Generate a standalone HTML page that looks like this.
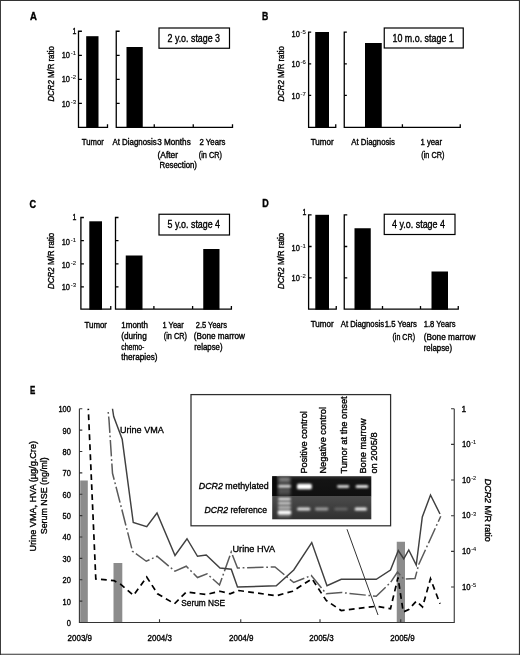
<!DOCTYPE html>
<html lang="en"><head><meta charset="utf-8"><title>Figure</title>
<style>html,body{margin:0;padding:0;background:#fff}svg{display:block}text{stroke:#000;stroke-width:.36px}</style></head>
<body>
<svg width="520" height="655" viewBox="0 0 520 655" font-family='"Liberation Sans", Arial, sans-serif' fill="#000">
<rect x="0" y="0" width="520" height="655" fill="#fff"/>
<text x="29.9" y="20.3" font-size="10.4" font-weight="bold" textLength="6.9" lengthAdjust="spacingAndGlyphs">A</text>
<text transform="translate(54.20,101.60) rotate(-90)" font-size="8.3" textLength="55.40" lengthAdjust="spacingAndGlyphs" ><tspan font-style="italic">DCR2</tspan> M/R ratio</text>
<path d="M81.90,31.25H78.50V127.40H107.50v-3.2M78.50,55.30h3.4M78.50,79.30h3.4M78.50,103.30h3.4M119.65,31.25H116.25V127.40H232.50v-3.2M116.25,55.30h3.4M116.25,79.30h3.4M116.25,103.30h3.4M154.25,127.40v-3.2M193.25,127.40v-3.2" fill="none" stroke="#000" stroke-width="1.3"/>
<rect x="86.20" y="36.20" width="12.30" height="91.70" fill="#000"/>
<rect x="126.50" y="47.00" width="16.25" height="80.90" fill="#000"/>
<text x="72.50" y="33.50" font-size="8.3" textLength="3.9" lengthAdjust="spacingAndGlyphs">1</text>
<text x="61.70" y="58.20" font-size="8.3" textLength="8.30" lengthAdjust="spacingAndGlyphs">10</text>
<text x="70.70" y="55.20" font-size="5.2" textLength="5.3" lengthAdjust="spacingAndGlyphs" style="stroke-width:.08px">-1</text>
<text x="61.70" y="82.30" font-size="8.3" textLength="8.30" lengthAdjust="spacingAndGlyphs">10</text>
<text x="70.70" y="79.30" font-size="5.2" textLength="5.3" lengthAdjust="spacingAndGlyphs" style="stroke-width:.08px">-2</text>
<text x="61.70" y="106.90" font-size="8.3" textLength="8.30" lengthAdjust="spacingAndGlyphs">10</text>
<text x="70.70" y="103.90" font-size="5.2" textLength="5.3" lengthAdjust="spacingAndGlyphs" style="stroke-width:.08px">-3</text>
<rect x="159.00" y="28.00" width="70.50" height="20.25" fill="#fff" stroke="#000" stroke-width="1.2"/>
<text x="167.50" y="41.75" font-size="10" textLength="52.50" lengthAdjust="spacingAndGlyphs" >2 y.o. stage 3</text>
<text x="81.75" y="145.40" font-size="8.3" textLength="22.00" lengthAdjust="spacingAndGlyphs" >Tumor</text>
<text x="112.50" y="145.40" font-size="8.3" textLength="44.10" lengthAdjust="spacingAndGlyphs" >At Diagnosis</text>
<text x="157.20" y="145.40" font-size="8.3" textLength="33.55" lengthAdjust="spacingAndGlyphs" >3 Months</text>
<text x="157.50" y="157.60" font-size="8.3" textLength="20.50" lengthAdjust="spacingAndGlyphs" >(After</text>
<text x="159.50" y="168.30" font-size="8.3" textLength="37.50" lengthAdjust="spacingAndGlyphs" >Resection)</text>
<text x="199.50" y="145.40" font-size="8.3" textLength="26.00" lengthAdjust="spacingAndGlyphs" >2 Years</text>
<text x="198.75" y="157.60" font-size="8.3" textLength="23.25" lengthAdjust="spacingAndGlyphs" >(in CR)</text>
<text x="261.9" y="19.8" font-size="10.4" font-weight="bold" textLength="6.3" lengthAdjust="spacingAndGlyphs">B</text>
<text transform="translate(284.40,101.60) rotate(-90)" font-size="8.3" textLength="55.40" lengthAdjust="spacingAndGlyphs" ><tspan font-style="italic">DCR2</tspan> M/R ratio</text>
<path d="M311.20,32.10H308.60V127.40H335.75v-3.2M308.60,63.80h2.6M308.60,95.30h2.6M346.85,32.10H344.25V127.40H460.25v-3.2M344.25,63.80h2.6M344.25,95.30h2.6M402.40,127.40v-3.2" fill="none" stroke="#000" stroke-width="1.3"/>
<rect x="315.20" y="32.00" width="13.80" height="95.90" fill="#000"/>
<rect x="365.00" y="43.00" width="16.75" height="84.90" fill="#000"/>
<text x="291.60" y="36.60" font-size="8.3" textLength="8.30" lengthAdjust="spacingAndGlyphs">10</text>
<text x="300.60" y="33.60" font-size="5.2" textLength="5.3" lengthAdjust="spacingAndGlyphs" style="stroke-width:.08px">-5</text>
<text x="291.60" y="66.90" font-size="8.3" textLength="8.30" lengthAdjust="spacingAndGlyphs">10</text>
<text x="300.60" y="63.90" font-size="5.2" textLength="5.3" lengthAdjust="spacingAndGlyphs" style="stroke-width:.08px">-6</text>
<text x="291.60" y="99.00" font-size="8.3" textLength="8.30" lengthAdjust="spacingAndGlyphs">10</text>
<text x="300.60" y="96.00" font-size="5.2" textLength="5.3" lengthAdjust="spacingAndGlyphs" style="stroke-width:.08px">-7</text>
<rect x="384.25" y="28.00" width="79.00" height="20.00" fill="#fff" stroke="#000" stroke-width="1.2"/>
<text x="392.50" y="41.50" font-size="10" textLength="61.25" lengthAdjust="spacingAndGlyphs" >10 m.o. stage 1</text>
<text x="310.75" y="145.20" font-size="8.3" textLength="23.00" lengthAdjust="spacingAndGlyphs" >Tumor</text>
<text x="351.25" y="145.20" font-size="8.3" textLength="43.75" lengthAdjust="spacingAndGlyphs" >At Diagnosis</text>
<text x="420.50" y="145.20" font-size="8.3" textLength="21.50" lengthAdjust="spacingAndGlyphs" >1 year</text>
<text x="421.25" y="157.80" font-size="8.3" textLength="23.25" lengthAdjust="spacingAndGlyphs" >(in CR)</text>
<text x="29.5" y="207.9" font-size="10.4" font-weight="bold" textLength="6.6" lengthAdjust="spacingAndGlyphs">C</text>
<text transform="translate(54.30,289.00) rotate(-90)" font-size="8.3" textLength="56.30" lengthAdjust="spacingAndGlyphs" ><tspan font-style="italic">DCR2</tspan> M/R ratio</text>
<path d="M83.90,217.50H80.90V309.20H110.75v-3.2M80.90,240.70h3.0M80.90,263.80h3.0M80.90,286.80h3.0M118.50,217.50H115.50V309.20H231.40v-3.2M115.50,240.70h3.0M115.50,263.80h3.0M115.50,286.80h3.0M153.90,309.20v-3.2M192.60,309.20v-3.2" fill="none" stroke="#000" stroke-width="1.3"/>
<rect x="89.30" y="221.30" width="12.70" height="88.40" fill="#000"/>
<rect x="125.75" y="255.50" width="16.75" height="54.20" fill="#000"/>
<rect x="203.25" y="249.00" width="16.25" height="60.70" fill="#000"/>
<text x="72.50" y="220.40" font-size="8.3" textLength="3.9" lengthAdjust="spacingAndGlyphs">1</text>
<text x="61.70" y="244.70" font-size="8.3" textLength="8.30" lengthAdjust="spacingAndGlyphs">10</text>
<text x="70.70" y="241.70" font-size="5.2" textLength="5.3" lengthAdjust="spacingAndGlyphs" style="stroke-width:.08px">-1</text>
<text x="61.70" y="267.50" font-size="8.3" textLength="8.30" lengthAdjust="spacingAndGlyphs">10</text>
<text x="70.70" y="264.50" font-size="5.2" textLength="5.3" lengthAdjust="spacingAndGlyphs" style="stroke-width:.08px">-2</text>
<text x="61.70" y="290.00" font-size="8.3" textLength="8.30" lengthAdjust="spacingAndGlyphs">10</text>
<text x="70.70" y="287.00" font-size="5.2" textLength="5.3" lengthAdjust="spacingAndGlyphs" style="stroke-width:.08px">-3</text>
<rect x="159.00" y="214.25" width="70.50" height="20.75" fill="#fff" stroke="#000" stroke-width="1.2"/>
<text x="167.50" y="228.00" font-size="10" textLength="52.50" lengthAdjust="spacingAndGlyphs" >5 y.o. stage 4</text>
<text x="84.50" y="327.50" font-size="8.3" textLength="22.50" lengthAdjust="spacingAndGlyphs" >Tumor</text>
<text x="121.25" y="327.50" font-size="8.3" textLength="26.75" lengthAdjust="spacingAndGlyphs" >1month</text>
<text x="121.25" y="339.30" font-size="8.3" textLength="25.45" lengthAdjust="spacingAndGlyphs" >(during</text>
<text x="121.25" y="349.80" font-size="8.3" textLength="23.05" lengthAdjust="spacingAndGlyphs" >chemo-</text>
<text x="121.25" y="360.40" font-size="8.3" textLength="36.25" lengthAdjust="spacingAndGlyphs" >therapies)</text>
<text x="162.50" y="327.50" font-size="8.3" textLength="21.25" lengthAdjust="spacingAndGlyphs" >1 Year</text>
<text x="163.75" y="339.30" font-size="8.3" textLength="23.25" lengthAdjust="spacingAndGlyphs" >(in CR)</text>
<text x="195.75" y="327.50" font-size="8.3" textLength="31.25" lengthAdjust="spacingAndGlyphs" >2.5 Years</text>
<text x="193.75" y="339.30" font-size="8.3" textLength="51.25" lengthAdjust="spacingAndGlyphs" >(Bone marrow</text>
<text x="194.25" y="349.80" font-size="8.3" textLength="28.25" lengthAdjust="spacingAndGlyphs" >relapse)</text>
<text x="262.3" y="207.3" font-size="10.4" font-weight="bold" textLength="6.5" lengthAdjust="spacingAndGlyphs">D</text>
<text transform="translate(284.40,289.00) rotate(-90)" font-size="8.3" textLength="56.30" lengthAdjust="spacingAndGlyphs" ><tspan font-style="italic">DCR2</tspan> M/R ratio</text>
<path d="M311.60,214.90H308.60V309.20H336.25v-3.2M308.60,246.50h3.0M308.60,277.90h3.0M347.25,214.90H344.25V309.20H458.25v-3.2M344.25,246.50h3.0M344.25,277.90h3.0M382.50,309.20v-3.2M420.50,309.20v-3.2" fill="none" stroke="#000" stroke-width="1.3"/>
<rect x="315.30" y="214.80" width="13.70" height="94.90" fill="#000"/>
<rect x="354.50" y="228.25" width="16.25" height="81.45" fill="#000"/>
<rect x="431.50" y="271.50" width="16.50" height="38.20" fill="#000"/>
<text x="302.40" y="215.30" font-size="8.3" textLength="3.9" lengthAdjust="spacingAndGlyphs">1</text>
<text x="291.60" y="251.10" font-size="8.3" textLength="8.30" lengthAdjust="spacingAndGlyphs">10</text>
<text x="300.60" y="248.10" font-size="5.2" textLength="5.3" lengthAdjust="spacingAndGlyphs" style="stroke-width:.08px">-1</text>
<text x="291.60" y="280.90" font-size="8.3" textLength="8.30" lengthAdjust="spacingAndGlyphs">10</text>
<text x="300.60" y="277.90" font-size="5.2" textLength="5.3" lengthAdjust="spacingAndGlyphs" style="stroke-width:.08px">-2</text>
<rect x="384.25" y="214.25" width="70.75" height="20.25" fill="#fff" stroke="#000" stroke-width="1.2"/>
<text x="392.00" y="227.50" font-size="10" textLength="53.00" lengthAdjust="spacingAndGlyphs" >4 y.o. stage 4</text>
<text x="310.75" y="327.20" font-size="8.3" textLength="23.00" lengthAdjust="spacingAndGlyphs" >Tumor</text>
<text x="340.75" y="327.20" font-size="8.3" textLength="43.35" lengthAdjust="spacingAndGlyphs" >At Diagnosis</text>
<text x="384.70" y="327.20" font-size="8.3" textLength="32.30" lengthAdjust="spacingAndGlyphs" >1.5 Years</text>
<text x="392.50" y="339.60" font-size="8.3" textLength="22.50" lengthAdjust="spacingAndGlyphs" >(in CR)</text>
<text x="423.75" y="327.20" font-size="8.3" textLength="31.75" lengthAdjust="spacingAndGlyphs" >1.8 Years</text>
<text x="423.75" y="339.60" font-size="8.3" textLength="51.75" lengthAdjust="spacingAndGlyphs" >(Bone marrow</text>
<text x="423.75" y="350.50" font-size="8.3" textLength="28.25" lengthAdjust="spacingAndGlyphs" >relapse)</text>
<text x="29.9" y="394.4" font-size="10.4" font-weight="bold" textLength="5.3" lengthAdjust="spacingAndGlyphs">E</text>
<rect x="80.2" y="480.5" width="7.60" height="142.00" fill="#8c8c8c"/>
<rect x="113.5" y="563" width="8.80" height="59.50" fill="#8c8c8c"/>
<rect x="396.75" y="541.75" width="8.25" height="80.75" fill="#8c8c8c"/>
<path d="M79.4,408.75V622.5H454.25V408.75M79.4,408.75h2.9M79.4,430.12h2.9M79.4,451.50h2.9M79.4,472.88h2.9M79.4,494.25h2.9M79.4,515.62h2.9M79.4,537.00h2.9M79.4,558.38h2.9M79.4,579.75h2.9M79.4,601.12h2.9M79.4,622.50h2.9M454.25,408.75h-3.2M454.25,444.40h-3.2M454.25,480.05h-3.2M454.25,515.70h-3.2M454.25,551.35h-3.2M454.25,587.00h-3.2M159.5,622.5v-3.2M240.75,622.5v-3.2M320,622.5v-3.2M400.75,622.5v-3.2" fill="none" stroke="#333" stroke-width="1.1"/>
<text x="58.45" y="412.15" font-size="8.6" textLength="12.45" lengthAdjust="spacingAndGlyphs">100</text>
<text x="62.60" y="433.52" font-size="8.6" textLength="8.30" lengthAdjust="spacingAndGlyphs">90</text>
<text x="62.60" y="454.90" font-size="8.6" textLength="8.30" lengthAdjust="spacingAndGlyphs">80</text>
<text x="62.60" y="476.27" font-size="8.6" textLength="8.30" lengthAdjust="spacingAndGlyphs">70</text>
<text x="62.60" y="497.65" font-size="8.6" textLength="8.30" lengthAdjust="spacingAndGlyphs">60</text>
<text x="62.60" y="519.02" font-size="8.6" textLength="8.30" lengthAdjust="spacingAndGlyphs">50</text>
<text x="62.60" y="540.40" font-size="8.6" textLength="8.30" lengthAdjust="spacingAndGlyphs">40</text>
<text x="62.60" y="561.77" font-size="8.6" textLength="8.30" lengthAdjust="spacingAndGlyphs">30</text>
<text x="62.60" y="583.15" font-size="8.6" textLength="8.30" lengthAdjust="spacingAndGlyphs">20</text>
<text x="62.60" y="604.52" font-size="8.6" textLength="8.30" lengthAdjust="spacingAndGlyphs">10</text>
<text x="66.75" y="625.90" font-size="8.6" textLength="4.15" lengthAdjust="spacingAndGlyphs">0</text>
<text x="461.6" y="412.15" font-size="8.4">1</text>
<text x="462" y="447.10" font-size="8.4" textLength="8.6" lengthAdjust="spacingAndGlyphs">10</text>
<text x="471.2" y="444.20" font-size="5.2" textLength="5" lengthAdjust="spacingAndGlyphs" style="stroke-width:.08px">-1</text>
<text x="462" y="482.75" font-size="8.4" textLength="8.6" lengthAdjust="spacingAndGlyphs">10</text>
<text x="471.2" y="479.85" font-size="5.2" textLength="5" lengthAdjust="spacingAndGlyphs" style="stroke-width:.08px">-2</text>
<text x="462" y="518.40" font-size="8.4" textLength="8.6" lengthAdjust="spacingAndGlyphs">10</text>
<text x="471.2" y="515.50" font-size="5.2" textLength="5" lengthAdjust="spacingAndGlyphs" style="stroke-width:.08px">-3</text>
<text x="462" y="554.05" font-size="8.4" textLength="8.6" lengthAdjust="spacingAndGlyphs">10</text>
<text x="471.2" y="551.15" font-size="5.2" textLength="5" lengthAdjust="spacingAndGlyphs" style="stroke-width:.08px">-4</text>
<text x="462" y="589.70" font-size="8.4" textLength="8.6" lengthAdjust="spacingAndGlyphs">10</text>
<text x="471.2" y="586.80" font-size="5.2" textLength="5" lengthAdjust="spacingAndGlyphs" style="stroke-width:.08px">-5</text>
<text x="67.60" y="641.00" font-size="8.8" textLength="24.40" lengthAdjust="spacingAndGlyphs" >2003/9</text>
<text x="147.55" y="641.00" font-size="8.8" textLength="24.40" lengthAdjust="spacingAndGlyphs" >2004/3</text>
<text x="229.05" y="641.00" font-size="8.8" textLength="24.40" lengthAdjust="spacingAndGlyphs" >2004/9</text>
<text x="309.30" y="641.00" font-size="8.8" textLength="24.40" lengthAdjust="spacingAndGlyphs" >2005/3</text>
<text x="390.30" y="641.00" font-size="8.8" textLength="24.40" lengthAdjust="spacingAndGlyphs" >2005/9</text>
<text transform="translate(35.80,551.50) rotate(-90)" font-size="9.7" textLength="110.50" lengthAdjust="spacingAndGlyphs" >Urine VMA, HVA (µg/g.Cre)</text>
<text transform="translate(47.20,534.30) rotate(-90)" font-size="9.7" textLength="77.10" lengthAdjust="spacingAndGlyphs" >Serum NSE (ng/ml)</text>
<text transform="translate(484.60,478.75) rotate(90)" font-size="9.7" textLength="63.00" lengthAdjust="spacingAndGlyphs" ><tspan font-style="italic">DCR2</tspan> M/R ratio</text>
<polyline points="108.2,412 109,420 112.5,473.3 115.9,486.3 132.5,551.25 146.25,561.25 157,556.25 175,571.25 186.25,566.25 197.5,577.5 207,573.75 219.5,585 231.25,552 237.5,568 275,567 293.75,582.5 311.25,575.5 326.25,593.75 341.25,592.5 376.25,596.25 390.5,582.5 397.5,572 404,579.2 415,578.5 418.75,564.5 440.75,516.25" fill="none" stroke-linejoin="miter" stroke="#5a5a5a" stroke-width="1.5" stroke-dasharray="16.4 2.7 1.8 2.7" stroke-dashoffset="19.1"/>
<polyline points="112.5,408.75 113.7,416.5 122.2,439.3 133.25,522.5 146.75,526.75 157,513 175,555.5 187,538.75 197.5,556.25 206.25,555 220,568 231.25,569.25 237.5,587 276.25,585.75 293.75,570 311.75,542.5 327,585.75 341.25,579.25 376.25,579.25 390.5,570 398.3,550.5 403.75,558.75 408.75,550 416.25,565 422.3,517 430.5,495 440,514" fill="none" stroke-linejoin="miter" stroke="#404040" stroke-width="1.45"/>
<polyline points="88.3,408.75 95.8,579 114,580.6 120.8,584.4 133.5,595.4 146.7,577 157.5,593.75 174.5,603.75 186.25,592 200,593.75 206.25,594.5 220,591.25 230,593.75 238.75,590.5 276.25,595.75 292.5,591.25 312,578.8 326.25,600.5 341.25,610.5 376.25,606.25 390.5,608.75 398,577.5 403.25,612 408.75,609.5 416.25,601.25 422.5,607 430.5,578.75 440,603.75" fill="none" stroke-linejoin="miter" stroke="#000" stroke-width="1.7" stroke-dasharray="5.8 4.2" stroke-dashoffset="4.4"/>
<text x="120.00" y="433.30" font-size="9.7" textLength="43.75" lengthAdjust="spacingAndGlyphs" >Urine VMA</text>
<text x="232.50" y="551.80" font-size="9.7" textLength="42.50" lengthAdjust="spacingAndGlyphs" >Urine HVA</text>
<text x="181.25" y="606.30" font-size="9.7" textLength="43.75" lengthAdjust="spacingAndGlyphs" >Serum NSE</text>
<line x1="347" y1="529.25" x2="378" y2="615" stroke="#333" stroke-width="1"/>
<rect x="191" y="394.6" width="199.6" height="131.2" fill="#fff" stroke="#2e2e2e" stroke-width="1.25"/>
<defs><filter id="b1" x="-20%" y="-100%" width="140%" height="300%"><feGaussianBlur stdDeviation="0.85"/></filter><filter id="b2" x="-20%" y="-100%" width="140%" height="300%"><feGaussianBlur stdDeviation="1.6"/></filter></defs>
<defs><linearGradient id="gu" x1="0" y1="0" x2="0" y2="1"><stop offset="0" stop-color="#303030"/><stop offset="0.2" stop-color="#141414"/><stop offset="1" stop-color="#101010"/></linearGradient><linearGradient id="gl" x1="0" y1="0" x2="0" y2="1"><stop offset="0" stop-color="#4c4c4c"/><stop offset="1" stop-color="#303030"/></linearGradient></defs>
<rect x="272.2" y="476.2" width="99.1" height="20" fill="url(#gu)"/>
<rect x="272.2" y="496" width="99.1" height="23.3" fill="url(#gl)"/>
<rect x="272.2" y="476.2" width="4.5" height="19.8" fill="#050505" opacity="0.8"/>
<rect x="278" y="477" width="12.5" height="18.5" fill="#666" opacity="0.65" filter="url(#b2)"/>
<rect x="278" y="497.5" width="12.5" height="20" fill="#888" opacity="0.6" filter="url(#b2)"/>
<rect x="279" y="478.00" width="11.00" height="3" rx="1.50" fill="#999" opacity="0.8" filter="url(#b2)"/>
<rect x="278.3" y="485.00" width="12.50" height="2.4" rx="1.20" fill="#ddd" opacity="1" filter="url(#b1)"/>
<rect x="279" y="490.20" width="11.00" height="1.6" rx="0.80" fill="#666" opacity="0.5" filter="url(#b1)"/>
<rect x="278.3" y="497.90" width="12.50" height="2.2" rx="1.10" fill="#eee" opacity="1" filter="url(#b1)"/>
<rect x="278.3" y="502.20" width="12.50" height="2" rx="1.00" fill="#ddd" opacity="1" filter="url(#b1)"/>
<rect x="278.3" y="506.50" width="12.50" height="2" rx="1.00" fill="#ccc" opacity="1" filter="url(#b1)"/>
<rect x="277.8" y="510.50" width="13.40" height="4" rx="1.50" fill="#fff" opacity="1" filter="url(#b1)"/>
<rect x="297" y="483.70" width="14.80" height="5.6" rx="1.50" fill="#fff" opacity="1" filter="url(#b1)"/>
<rect x="337" y="485.10" width="12.20" height="2.8" rx="1.40" fill="#d0d0d0" opacity="1" filter="url(#b1)"/>
<rect x="355.6" y="484.90" width="12.80" height="3.2" rx="1.50" fill="#e4e4e4" opacity="1" filter="url(#b1)"/>
<rect x="297" y="507.50" width="13.40" height="3" rx="1.50" fill="#e0e0e0" opacity="1" filter="url(#b1)"/>
<rect x="315" y="507.60" width="13.40" height="2.8" rx="1.40" fill="#a0a0a0" opacity="1" filter="url(#b1)"/>
<rect x="334.4" y="507.80" width="13.20" height="2.4" rx="1.20" fill="#6c6c6c" opacity="1" filter="url(#b1)"/>
<rect x="354.6" y="507.40" width="12.40" height="3.2" rx="1.50" fill="#f0f0f0" opacity="1" filter="url(#b1)"/>
<text x="198.75" y="489.30" font-size="9.7" textLength="70.00" lengthAdjust="spacingAndGlyphs" ><tspan font-style="italic">DCR2</tspan> methylated</text>
<text x="204.50" y="512.50" font-size="9.7" textLength="62.50" lengthAdjust="spacingAndGlyphs" ><tspan font-style="italic">DCR2</tspan> reference</text>
<text transform="translate(306.90,473.60) rotate(-90)" font-size="9.7" textLength="62.40" lengthAdjust="spacingAndGlyphs" >Positive control</text>
<text transform="translate(326.40,473.60) rotate(-90)" font-size="9.7" textLength="66.60" lengthAdjust="spacingAndGlyphs" >Negative control</text>
<text transform="translate(346.50,473.60) rotate(-90)" font-size="9.7" textLength="77.30" lengthAdjust="spacingAndGlyphs" >Tumor at the onset</text>
<text transform="translate(365.50,473.60) rotate(-90)" font-size="9.7" textLength="55.00" lengthAdjust="spacingAndGlyphs" >Bone marrow</text>
<text transform="translate(377.00,473.60) rotate(-90)" font-size="9.7" textLength="41.30" lengthAdjust="spacingAndGlyphs" >on 2005/8</text>
<path d="M0.4,0V655M0,0.35H520M519.45,0V655M0,654.3H520" stroke="#333" stroke-width="1.1" fill="none"/>
</svg>
</body></html>
